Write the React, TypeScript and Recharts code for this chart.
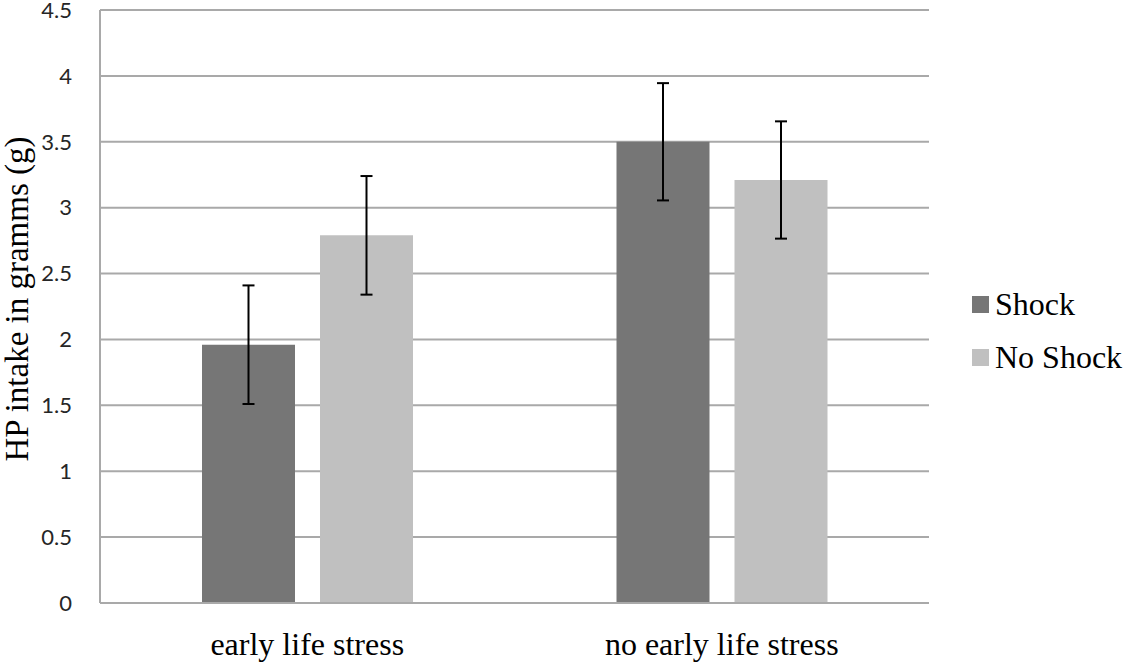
import { BarChart, Bar, XAxis, YAxis, CartesianGrid, ErrorBar, Label } from "recharts";

const CATEGORIES = ["early life stress", "no early life stress"];
const SHOCK = [1.96, 3.5];
const SHOCK_ERR = [0.45, 0.445];
const NO_SHOCK = [2.79, 3.21];
const NO_SHOCK_ERR = [0.45, 0.445];
const Y_TICKS = [0, 0.5, 1, 1.5, 2, 2.5, 3, 3.5, 4, 4.5];

const SERIES = [
  { key: "shock", name: "Shock", color: "#767676" },
  { key: "noShock", name: "No Shock", color: "#c0c0c0" },
];

const data = CATEGORIES.map((c, i) => ({
  name: c,
  shock: SHOCK[i],
  shockErr: SHOCK_ERR[i],
  noShock: NO_SHOCK[i],
  noShockErr: NO_SHOCK_ERR[i],
}));

const SERIF = '"Liberation Serif", "Times New Roman", serif';
const GRID = "#a9a9a9";

function LegendBox() {
  return (
    <div
      style={{
        position: "absolute",
        left: 972,
        top: 278,
        fontFamily: SERIF,
        fontSize: 32,
        color: "#000",
      }}
    >
      {SERIES.map((s) => (
        <div key={s.key} style={{ display: "flex", alignItems: "center", height: 53 }}>
          <span style={{ width: 17, height: 17, background: s.color, marginRight: 6, display: "inline-block" }} />
          <span>{s.name}</span>
        </div>
      ))}
    </div>
  );
}

function YTitle() {
  const cx = 17;
  const cy = 299;
  return (
    <text
      x={cx}
      y={cy}
      transform={`rotate(-90, ${cx}, ${cy})`}
      textAnchor="middle"
      dominantBaseline="central"
      fontFamily={SERIF}
      fontSize={33}
      fill="#000"
    >
      HP intake in gramms (g)
    </text>
  );
}

export default function App() {
  return (
    <div style={{ position: "absolute", left: 0, top: 0, width: 1130, height: 662, background: "#fff" }}>
      <BarChart
        width={1130}
        height={662}
        data={data}
        margin={{ top: 10, right: 201, bottom: 0, left: 0 }}
        barSize={93}
        barGap={25}
      >
        <CartesianGrid vertical={false} stroke={GRID} strokeWidth={2} />
        <XAxis
          dataKey="name"
          height={59}
          tickLine={false}
          tickSize={0}
          tickMargin={29}
          axisLine={{ stroke: GRID, strokeWidth: 2 }}
          tick={{ fontFamily: SERIF, fontSize: 32, fill: "#000" }}
        />
        <YAxis
          width={100}
          domain={[0, 4.5]}
          ticks={Y_TICKS}
          interval={0}
          tickLine={false}
          tickSize={0}
          tickMargin={28}
          axisLine={{ stroke: GRID, strokeWidth: 2 }}
          tick={{ fontFamily: "Lato, sans-serif", fontSize: 22, fill: "#262626" }}
        >
          <Label content={<YTitle />} />
        </YAxis>
        <Bar dataKey="shock" name="Shock" fill={SERIES[0].color} isAnimationActive={false}>
          <ErrorBar dataKey="shockErr" width={6} stroke="#000" strokeWidth={2} />
        </Bar>
        <Bar dataKey="noShock" name="No Shock" fill={SERIES[1].color} isAnimationActive={false}>
          <ErrorBar dataKey="noShockErr" width={6} stroke="#000" strokeWidth={2} />
        </Bar>
      </BarChart>
      <LegendBox />
    </div>
  );
}
